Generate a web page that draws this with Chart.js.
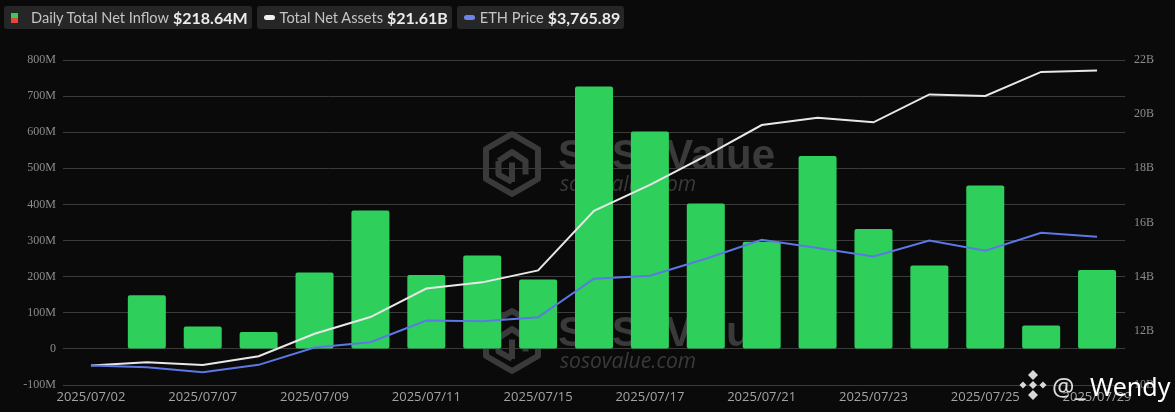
<!DOCTYPE html>
<html lang="en">
    <head>
        <meta charset="utf-8" />
        <script src="https://cdn.jsdelivr.net/npm/chart.js@4.4.1/dist/chart.umd.min.js"></script>
        <title>ETH ETF flows</title>
        <style>
            body { margin: 0; background: #0a0a0a; }
            #wrap { position: relative; width: 1175px; height: 412px; }
            #legend { position: absolute; left: 4px; top: 6px; display: flex; gap: 5px; font-family: "Lato", sans-serif; z-index: 2; }
            .item { display: flex; align-items: center; height: 23px; background: #262626; border-radius: 3px; padding: 0 4px 0 4px; }
            .item .lbl { color: #c4c4c4; font-size: 14.6px; margin-right: 4px; }
            .item .val { color: #ececec; font-size: 16px; font-weight: bold; }
            .sq { width: 7px; height: 10px; margin: 0 13px 0 3px; background: linear-gradient(#2ecf5b 50%, #e5473a 50%); }
            .pill { width: 11px; height: 5px; border-radius: 3px; margin: 0 5px 0 3px; }
        </style>
    </head>
    <body>
        <div id="wrap">
            <div id="legend">
                <div class="item"><span class="sq"></span><span class="lbl">Daily Total Net Inflow</span><span class="val">$218.64M</span></div>
                <div class="item"><span class="pill" style="background:#f0f0f0"></span><span class="lbl">Total Net Assets</span><span class="val">$21.61B</span></div>
                <div class="item"><span class="pill" style="background:#6c84ea"></span><span class="lbl">ETH Price</span><span class="val">$3,765.89</span></div>
            </div>
            <canvas id="grafico"></canvas>
        </div>
        <script>
            // trading days shown on the x axis
            const dates = ["2025/07/02", "2025/07/03", "2025/07/07", "2025/07/08", "2025/07/09", "2025/07/10",
                "2025/07/11", "2025/07/14", "2025/07/15", "2025/07/16", "2025/07/17", "2025/07/18",
                "2025/07/21", "2025/07/22", "2025/07/23", "2025/07/24", "2025/07/25", "2025/07/28", "2025/07/29"];
            // daily total net inflow, millions of USD
            const netInflow = [-1.8, 148.5, 62.1, 47.0, 211.3, 383.1, 204.9, 258.7, 192.3, 726.7,
                602.0, 402.5, 296.6, 533.9, 332.2, 231.2, 452.7, 65.1, 218.64];
            // total net assets, billions of USD
            const netAssets = [10.72, 10.84, 10.74, 11.06, 11.89, 12.51, 13.56, 13.79, 14.23, 16.43,
                17.39, 18.46, 19.60, 19.87, 19.70, 20.73, 20.67, 21.56, 21.61];
            // ETH price, USD
            const ethPrice = [2570, 2554, 2508, 2576, 2737, 2786, 2987, 2980, 3017, 3376,
                3404, 3561, 3737, 3660, 3583, 3731, 3636, 3802, 3765.89];

            const leftTicks = { min: -100, max: 800, step: 100 };
            const rightTicks = { min: 10, max: 22, step: 2 };

            const verde = "#2ecf5b";
            const rojo = "#e5473a";
            const gris = "#3b3b3b";

            // marca de agua detras de las barras
            function logo(ctx, cx, cy, r) {
                ctx.beginPath();
                for (let i = 0; i < 6; i++) {
                    const a = Math.PI / 3 * i - Math.PI / 2;
                    ctx.lineTo(cx + r * Math.cos(a), cy + r * Math.sin(a));
                }
                ctx.closePath();
                ctx.stroke();
                ctx.beginPath();
                ctx.moveTo(cx - r * 0.45, cy - r * 0.1);
                ctx.lineTo(cx, cy - r * 0.4);
                ctx.lineTo(cx + r * 0.45, cy - r * 0.1);
                ctx.lineTo(cx + r * 0.45, cy + r * 0.35);
                ctx.moveTo(cx - r * 0.45, cy - r * 0.1);
                ctx.lineTo(cx - r * 0.45, cy + r * 0.35);
                ctx.lineTo(cx, cy + r * 0.6);
                ctx.moveTo(cx, cy - r * 0.05);
                ctx.lineTo(cx, cy + r * 0.6);
                ctx.stroke();
            }

            const watermark = {
                id: "watermark",
                beforeDatasetsDraw(chart) {
                    const ctx = chart.ctx;
                    ctx.save();
                    ctx.strokeStyle = "#3a3a3a";
                    ctx.fillStyle = "#3a3a3a";
                    ctx.lineWidth = 6;
                    ctx.lineJoin = "round";
                    [0, 177].forEach(dy => {
                        logo(ctx, 512, 164 + dy, 30);
                        ctx.font = "bold 42px 'Liberation Sans', Arial, sans-serif";
                        ctx.textBaseline = "alphabetic";
                        ctx.fillText("SoSoValue", 558, 169 + dy);
                        ctx.font = "italic 21px 'Open Sans', sans-serif";
                        ctx.fillText("sosovalue.com", 560, 191 + dy);
                    });
                    ctx.restore();
                },
                afterDraw(chart) {
                    const ctx = chart.ctx;
                    ctx.save();
                    // binance mark
                    ctx.fillStyle = "#d8d8d8";
                    const cx = 1033, cy = 385;
                    const rombo = (x, y, s) => {
                        ctx.beginPath();
                        ctx.moveTo(x, y - s); ctx.lineTo(x + s, y); ctx.lineTo(x, y + s); ctx.lineTo(x - s, y);
                        ctx.closePath(); ctx.fill();
                    };
                    rombo(cx, cy, 4);
                    rombo(cx - 10, cy, 3.5);
                    rombo(cx + 10, cy, 3.5);
                    rombo(cx, cy - 10, 5);
                    rombo(cx, cy + 10, 5);
                    ctx.font = "25px 'Noto Sans', sans-serif";
                    ctx.textBaseline = "alphabetic";
                    ctx.fillStyle = "#dcdcdc";
                    ctx.fillText("@_", 1052, 396);
                    ctx.fillStyle = "#ffffff";
                    ctx.fillText("Wendy", 1090, 396);
                    ctx.restore();
                }
            };

            new Chart(document.getElementById("grafico").getContext("2d"), {
                data: {
                    labels: dates,
                    datasets: [
                        {
                            type: "line", label: "Total Net Assets", data: netAssets, yAxisID: "assets",
                            borderColor: "#e8e8e8", borderWidth: 2, pointRadius: 0, tension: 0, order: 1
                        },
                        {
                            type: "line", label: "ETH Price", data: ethPrice, yAxisID: "eth",
                            borderColor: "#5c78e6", borderWidth: 2, pointRadius: 0, tension: 0, order: 0
                        },
                        {
                            type: "bar", label: "Daily Total Net Inflow", data: netInflow, yAxisID: "inflow",
                            backgroundColor: netInflow.map(v => v < 0 ? rojo : verde),
                            borderColor: netInflow.map(v => v < 0 ? rojo : verde),
                            borderWidth: netInflow.map(v => v < 0 ? 1 : 0),
                            borderRadius: 2, borderSkipped: false,
                            barPercentage: 0.68, categoryPercentage: 1, order: 2
                        }
                    ]
                },
                options: {
                    responsive: true,
                    maintainAspectRatio: false,
                    animation: false,
                    layout: { padding: { top: 60, left: 0, right: 0, bottom: 0 } },
                    plugins: { legend: { display: false }, tooltip: { enabled: false } },
                    scales: {
                        x: {
                            offset: true,
                            grid: { display: false, drawTicks: false },
                            border: { display: false },
                            afterFit: s => { s.height = 27; },
                            ticks: {
                                autoSkip: false, maxRotation: 0, padding: 4,
                                color: "#a3a3a3", font: { family: "'Open Sans'", size: 13 },
                                callback: (v, i) => i % 2 === 0 ? dates[i] : ""
                            }
                        },
                        inflow: {
                            position: "left",
                            min: leftTicks.min, max: leftTicks.max,
                            grid: { color: gris, drawTicks: false },
                            border: { display: false },
                            afterFit: s => { s.width = 63; },
                            ticks: {
                                stepSize: leftTicks.step, padding: 7,
                                color: "#8c8c8c", font: { family: "'Liberation Serif'", size: 12 },
                                callback: v => v === 0 ? "0" : v + "M"
                            }
                        },
                        assets: {
                            position: "right",
                            min: rightTicks.min, max: rightTicks.max,
                            grid: { display: false, drawTicks: false },
                            border: { display: false },
                            afterFit: s => { s.width = 50; },
                            ticks: {
                                stepSize: rightTicks.step, padding: 9,
                                color: "#8c8c8c", font: { family: "'Liberation Serif'", size: 12 },
                                callback: v => v + "B"
                            }
                        },
                        eth: {
                            display: false,
                            min: 2389, max: 5406
                        }
                    }
                },
                plugins: [watermark]
            });
        </script>
    </body>
</html>
